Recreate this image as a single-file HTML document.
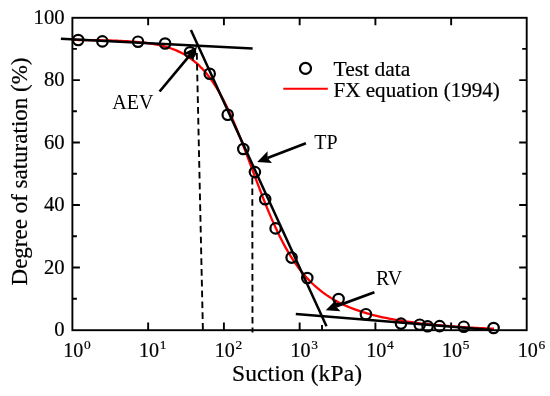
<!DOCTYPE html>
<html><head><meta charset="utf-8"><style>
html,body{margin:0;padding:0;background:#fff;}
svg{display:block;}
</style></head><body>
<svg width="550" height="396" viewBox="0 0 550 396">
<rect width="550" height="396" fill="#fff"/>
<polyline points="72.40,39.93 74.52,39.95 76.64,39.96 78.76,39.98 80.87,40.00 82.99,40.02 85.11,40.04 87.23,40.06 89.35,40.09 91.47,40.12 93.59,40.15 95.70,40.18 97.82,40.22 99.94,40.26 102.06,40.30 104.18,40.35 106.30,40.40 108.42,40.46 110.53,40.52 112.65,40.59 114.77,40.66 116.89,40.74 119.01,40.83 121.13,40.92 123.25,41.03 125.36,41.14 127.48,41.26 129.60,41.40 131.72,41.54 133.84,41.70 135.96,41.87 138.08,42.06 140.19,42.27 142.31,42.49 144.43,42.74 146.55,43.00 148.67,43.29 150.79,43.61 152.91,43.95 155.03,44.32 157.14,44.73 159.26,45.17 161.38,45.65 163.50,46.17 165.62,46.74 167.74,47.36 169.86,48.03 171.97,48.76 174.09,49.55 176.21,50.41 178.33,51.34 180.45,52.34 182.57,53.43 184.69,54.61 186.80,55.89 188.92,57.27 191.04,58.75 193.16,60.36 195.28,62.08 197.40,63.94 199.52,65.94 201.63,68.08 203.75,70.37 205.87,72.82 207.99,75.44 210.11,78.23 212.23,81.20 214.35,84.36 216.46,87.70 218.58,91.23 220.70,94.95 222.82,98.87 224.94,102.98 227.06,107.27 229.18,111.75 231.29,116.41 233.41,121.24 235.53,126.23 237.65,131.36 239.77,136.62 241.89,142.00 244.01,147.48 246.12,153.04 248.24,158.66 250.36,164.32 252.48,169.99 254.60,175.66 256.72,181.31 258.84,186.91 260.95,192.44 263.07,197.90 265.19,203.25 267.31,208.50 269.43,213.61 271.55,218.58 273.67,223.41 275.78,228.07 277.90,232.58 280.02,236.92 282.14,241.09 284.26,245.09 286.38,248.92 288.50,252.58 290.62,256.08 292.73,259.41 294.85,262.59 296.97,265.62 299.09,268.50 301.21,271.23 303.33,273.83 305.45,276.30 307.56,278.65 309.68,280.88 311.80,283.00 313.92,285.01 316.04,286.92 318.16,288.73 320.28,290.46 322.39,292.10 324.51,293.65 326.63,295.14 328.75,296.55 330.87,297.89 332.99,299.17 335.11,300.39 337.22,301.55 339.34,302.66 341.46,303.71 343.58,304.72 345.70,305.69 347.82,306.61 349.94,307.49 352.05,308.33 354.17,309.14 356.29,309.91 358.41,310.65 360.53,311.36 362.65,312.04 364.77,312.70 366.88,313.32 369.00,313.92 371.12,314.50 373.24,315.06 375.36,315.59 377.48,316.11 379.60,316.60 381.71,317.08 383.83,317.53 385.95,317.98 388.07,318.40 390.19,318.81 392.31,319.21 394.43,319.59 396.54,319.96 398.66,320.31 400.78,320.66 402.90,320.99 405.02,321.31 407.14,321.62 409.26,321.92 411.37,322.21 413.49,322.49 415.61,322.76 417.73,323.03 419.85,323.28 421.97,323.53 424.09,323.77 426.21,324.00 428.32,324.22 430.44,324.44 432.56,324.65 434.68,324.86 436.80,325.06 438.92,325.25 441.04,325.44 443.15,325.62 445.27,325.80 447.39,325.97 449.51,326.13 451.63,326.30 453.75,326.45 455.87,326.61 457.98,326.76 460.10,326.90 462.22,327.04 464.34,327.18 466.46,327.32 468.58,327.45 470.70,327.57 472.81,327.70 474.93,327.82 477.05,327.93 479.17,328.05 481.29,328.16 483.41,328.27 485.53,328.37 487.64,328.48 489.76,328.58 491.88,328.68 494.00,328.77" fill="none" stroke="#ff0000" stroke-width="2.3" stroke-linejoin="round"/>
<g stroke="#000" stroke-width="2.5" stroke-linecap="butt" fill="none">
<line x1="60.9" y1="38.7" x2="252.6" y2="48.4"/>
<line x1="190.9" y1="30.1" x2="326.5" y2="326.3"/>
<line x1="295.8" y1="314.1" x2="492" y2="330.0"/>
</g>
<g stroke="#000" stroke-width="1.9" fill="none">
<line x1="196.8" y1="53.1" x2="202.9" y2="330" stroke-dasharray="6.7 4.1"/>
<line x1="252.3" y1="177.8" x2="252.5" y2="332.5" stroke-dasharray="6.6 4.1"/>
</g>
<g stroke="#000" stroke-width="2.2" fill="none">
<circle cx="78.2" cy="40.05" r="5.2"/>
<circle cx="102.4" cy="41.4" r="5.2"/>
<circle cx="138.0" cy="41.7" r="5.2"/>
<circle cx="165.1" cy="43.5" r="5.2"/>
<circle cx="190.0" cy="52.3" r="5.2"/>
<circle cx="209.7" cy="73.8" r="5.2"/>
<circle cx="227.7" cy="114.8" r="5.2"/>
<circle cx="243.3" cy="149.0" r="5.2"/>
<circle cx="254.9" cy="172.1" r="5.2"/>
<circle cx="265.2" cy="199.2" r="5.2"/>
<circle cx="275.6" cy="228.4" r="5.2"/>
<circle cx="291.6" cy="257.6" r="5.2"/>
<circle cx="307.3" cy="278.0" r="5.2"/>
<circle cx="338.6" cy="299.0" r="5.2"/>
<circle cx="365.9" cy="314.2" r="5.2"/>
<circle cx="401.0" cy="323.6" r="5.2"/>
<circle cx="419.7" cy="324.7" r="5.2"/>
<circle cx="427.6" cy="326.3" r="5.2"/>
<circle cx="439.6" cy="326.1" r="5.2"/>
<circle cx="463.8" cy="326.7" r="5.2"/>
<circle cx="493.6" cy="328.0" r="5.2"/>
</g>
<line x1="159.60" y1="91.50" x2="189.94" y2="55.24" stroke="#000" stroke-width="2.7"/><polygon points="197.00,46.80 193.09,61.13 189.94,55.24 183.58,53.18" fill="#000"/>
<line x1="305.90" y1="143.30" x2="267.47" y2="158.06" stroke="#000" stroke-width="2.7"/><polygon points="257.20,162.00 267.58,151.37 267.47,158.06 272.03,162.95" fill="#000"/>
<line x1="374.40" y1="292.20" x2="336.02" y2="306.39" stroke="#000" stroke-width="2.7"/><polygon points="325.70,310.20 336.21,299.70 336.02,306.39 340.51,311.34" fill="#000"/>
<g stroke="#000" stroke-width="1.9" fill="none">
<rect x="72.4" y="17.8" width="454.30" height="312.40"/>
<path d="M148.15,330.0v-7.5M148.15,17.8v7.5M223.90,330.0v-7.5M223.90,17.8v7.5M299.65,330.0v-7.5M299.65,17.8v7.5M375.40,330.0v-7.5M375.40,17.8v7.5M451.15,330.0v-7.5M451.15,17.8v7.5M72.4,298.76h4.5M526.7,298.76h-4.5M72.4,267.52h7.5M526.7,267.52h-7.5M72.4,236.28h4.5M526.7,236.28h-4.5M72.4,205.04h7.5M526.7,205.04h-7.5M72.4,173.80h4.5M526.7,173.80h-4.5M72.4,142.56h7.5M526.7,142.56h-7.5M72.4,111.32h4.5M526.7,111.32h-4.5M72.4,80.08h7.5M526.7,80.08h-7.5M72.4,48.84h4.5M526.7,48.84h-4.5M322,330v-5"/>
</g>
<g style="font-family:'Liberation Serif',serif;stroke:#000;stroke-width:0.2px;font-size:20px" fill="#000">
<text x="64.6" y="336.40" text-anchor="end" style="font-size:20.7px">0</text>
<text x="64.6" y="273.92" text-anchor="end" style="font-size:20.7px">20</text>
<text x="64.6" y="211.44" text-anchor="end" style="font-size:20.7px">40</text>
<text x="64.6" y="148.96" text-anchor="end" style="font-size:20.7px">60</text>
<text x="64.6" y="86.48" text-anchor="end" style="font-size:20.7px">80</text>
<text x="64.6" y="24.00" text-anchor="end" style="font-size:20.7px">100</text>
<text x="63.30" y="357.2" style="font-size:20.1px">10<tspan dx="0.6" dy="-8.1" style="font-size:13.4px">0</tspan></text>
<text x="139.05" y="357.2" style="font-size:20.1px">10<tspan dx="0.6" dy="-8.1" style="font-size:13.4px">1</tspan></text>
<text x="214.80" y="357.2" style="font-size:20.1px">10<tspan dx="0.6" dy="-8.1" style="font-size:13.4px">2</tspan></text>
<text x="290.55" y="357.2" style="font-size:20.1px">10<tspan dx="0.6" dy="-8.1" style="font-size:13.4px">3</tspan></text>
<text x="366.30" y="357.2" style="font-size:20.1px">10<tspan dx="0.6" dy="-8.1" style="font-size:13.4px">4</tspan></text>
<text x="442.05" y="357.2" style="font-size:20.1px">10<tspan dx="0.6" dy="-8.1" style="font-size:13.4px">5</tspan></text>
<text x="517.80" y="357.2" style="font-size:20.1px">10<tspan dx="0.6" dy="-8.1" style="font-size:13.4px">6</tspan></text>
</g>
<text x="232" y="381" style="font-family:'Liberation Serif',serif;stroke:#000;stroke-width:0.2px;font-size:23.5px;letter-spacing:0.12px">Suction (kPa)</text>
<text transform="translate(27,171.5) rotate(-90)" text-anchor="middle" style="font-family:'Liberation Serif',serif;stroke:#000;stroke-width:0.2px;font-size:23px">Degree of saturation (%)</text>
<g style="font-family:'Liberation Serif',serif;stroke:#000;stroke-width:0.2px;font-size:21.3px">
<text x="333.5" y="76.1" style="font-size:21.5px">Test data</text>
<text x="333.5" y="97" style="font-size:21.1px">FX equation (1994)</text>
</g>
<circle cx="305.5" cy="68.4" r="5.5" stroke="#000" stroke-width="2.2" fill="none"/>
<line x1="283.3" y1="88.8" x2="327.8" y2="88.8" stroke="#ff0000" stroke-width="2.1"/>
<g style="font-family:'Liberation Serif',serif;stroke:#000;stroke-width:0.2px;font-size:20px;stroke-width:0">
<text x="112.3" y="109.3">AEV</text>
<text x="314.3" y="148.9">TP</text>
<text x="376.1" y="285.0">RV</text>
</g>
</svg>
</body></html>
